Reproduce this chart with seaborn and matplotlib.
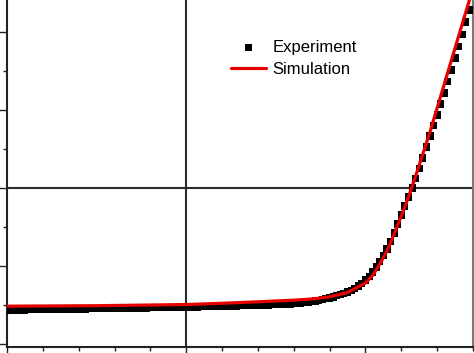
import matplotlib
matplotlib.use("Agg")
import matplotlib.pyplot as plt
import seaborn as sns
import pandas as pd
from matplotlib.ticker import MultipleLocator

sns.set_theme(style="white")
plt.rcParams["font.family"] = ["Liberation Sans", "DejaVu Sans"]

# Experiment (black squares)
exp_voltage = [
    -0.50, -0.49, -0.48, -0.47, -0.46, -0.45, -0.44, -0.43, -0.42, -0.41,
    -0.40, -0.39, -0.38, -0.37, -0.36, -0.35, -0.34, -0.33, -0.32, -0.31,
    -0.30, -0.29, -0.28, -0.27, -0.26, -0.25, -0.24, -0.23, -0.22, -0.21,
    -0.20, -0.19, -0.18, -0.17, -0.16, -0.15, -0.14, -0.13, -0.12, -0.11,
    -0.10, -0.09, -0.08, -0.07, -0.06, -0.05, -0.04, -0.03, -0.02, -0.01,
    0.00, 0.01, 0.02, 0.03, 0.04, 0.05, 0.06, 0.07, 0.08, 0.09,
    0.10, 0.11, 0.12, 0.13, 0.14, 0.15, 0.16, 0.17, 0.18, 0.19,
    0.20, 0.21, 0.22, 0.23, 0.24, 0.25, 0.26, 0.27, 0.28, 0.29,
    0.30, 0.31, 0.32, 0.33, 0.34, 0.35, 0.36, 0.37, 0.38, 0.39,
    0.40, 0.41, 0.42, 0.43, 0.44, 0.45, 0.46, 0.47, 0.48, 0.49,
    0.50, 0.51, 0.52, 0.53, 0.54, 0.55, 0.56, 0.57, 0.58, 0.59,
    0.60, 0.61, 0.62, 0.63, 0.64, 0.65, 0.66, 0.67, 0.68, 0.69,
    0.70, 0.71, 0.72, 0.73, 0.74, 0.75, 0.76, 0.77, 0.78, 0.79,
]
exp_current = [
    -1.567, -1.566, -1.566, -1.565, -1.564, -1.564, -1.563, -1.562, -1.561, -1.561,
    -1.560, -1.559, -1.559, -1.558, -1.557, -1.556, -1.556, -1.555, -1.554, -1.553,
    -1.553, -1.552, -1.551, -1.550, -1.550, -1.549, -1.548, -1.547, -1.547, -1.546,
    -1.545, -1.544, -1.544, -1.543, -1.542, -1.541, -1.540, -1.540, -1.539, -1.538,
    -1.537, -1.536, -1.536, -1.535, -1.534, -1.533, -1.532, -1.532, -1.531, -1.530,
    -1.529, -1.528, -1.527, -1.526, -1.525, -1.524, -1.523, -1.522, -1.521, -1.520,
    -1.519, -1.518, -1.516, -1.515, -1.514, -1.512, -1.511, -1.510, -1.508, -1.507,
    -1.505, -1.503, -1.502, -1.500, -1.498, -1.496, -1.494, -1.492, -1.490, -1.487,
    -1.485, -1.479, -1.474, -1.469, -1.463, -1.456, -1.449, -1.441, -1.432, -1.422,
    -1.410, -1.397, -1.382, -1.367, -1.351, -1.333, -1.314, -1.288, -1.256, -1.221,
    -1.179, -1.131, -1.077, -1.013, -0.942, -0.865, -0.782, -0.686, -0.577, -0.462,
    -0.346, -0.231, -0.115, 0.000, 0.122, 0.250, 0.385, 0.526, 0.667, 0.801,
    0.936, 1.077, 1.218, 1.365, 1.513, 1.667, 1.814, 1.968, 2.128, 2.282,
]

# Simulation (red line)
sim_voltage = [-0.50, -0.25, 0.00, 0.10, 0.20, 0.30, 0.35, 0.40, 0.45, 0.50,
               0.52, 0.54, 0.56, 0.58, 0.60, 0.62, 0.64, 0.66, 0.68, 0.70,
               0.72, 0.74, 0.76, 0.78, 0.80]
sim_current = [-1.515, -1.509, -1.494, -1.478, -1.459, -1.438, -1.423, -1.395, -1.340, -1.218,
               -1.122, -0.974, -0.808, -0.590, -0.359, -0.115, 0.154, 0.436, 0.718, 1.026,
               1.333, 1.641, 1.949, 2.256, 2.564]

exp_df = pd.DataFrame({"V": exp_voltage, "I": exp_current})
sim_df = pd.DataFrame({"V": sim_voltage, "I": sim_current})

W, H = 474, 353
fig = plt.figure(figsize=(W / 100, H / 100), dpi=100)
ax_left, ax_right = 7, 473
ax_bottom_px, ax_top_px = 347, -20
ax = fig.add_axes([ax_left / W, (H - ax_bottom_px) / H,
                   (ax_right - ax_left) / W, (ax_bottom_px - ax_top_px) / H])

ax.axhline(0, color="#2a2a2a", lw=1.5, zorder=1)
ax.axvline(0, color="#2a2a2a", lw=1.5, zorder=1)

sns.scatterplot(data=exp_df, x="V", y="I", ax=ax, marker="s", s=26,
                color="black", edgecolor="none", linewidth=0,
                label="Experiment", zorder=3)
sns.lineplot(data=sim_df, x="V", y="I", ax=ax, color="#e60000", lw=2.3,
             label="Simulation", zorder=4)

ax.set_xlim(-0.5, 0.8)
ax.set_ylim((188 - ax_bottom_px) / 78, (188 - ax_top_px) / 78)
ax.set_xlabel("")
ax.set_ylabel("")

ax.xaxis.set_major_locator(MultipleLocator(0.5))
ax.xaxis.set_minor_locator(MultipleLocator(0.1))
ax.yaxis.set_major_locator(MultipleLocator(1.0))
ax.yaxis.set_minor_locator(MultipleLocator(0.5))
ax.tick_params(which="both", direction="out", bottom=True, left=True,
               labelbottom=False, labelleft=False, color="#222222", width=1.0)
ax.tick_params(which="major", length=6)
ax.tick_params(which="minor", length=3)

for side in ["left", "bottom", "right", "top"]:
    ax.spines[side].set_visible(True)
    ax.spines[side].set_color("#222222")
    ax.spines[side].set_linewidth(1.5)
ax.spines["right"].set_color("#777777")

leg = ax.legend(loc="upper left", bbox_to_anchor=(231 / W, 1 - 40 / H),
                bbox_transform=fig.transFigure, frameon=False, fontsize=12,
                handlelength=2.1, handletextpad=0.4, borderpad=0,
                borderaxespad=0, labelspacing=0.42, markerscale=1.0)
for t in leg.get_texts():
    t.set_color("black")

fig.savefig("out.png", dpi=100)
